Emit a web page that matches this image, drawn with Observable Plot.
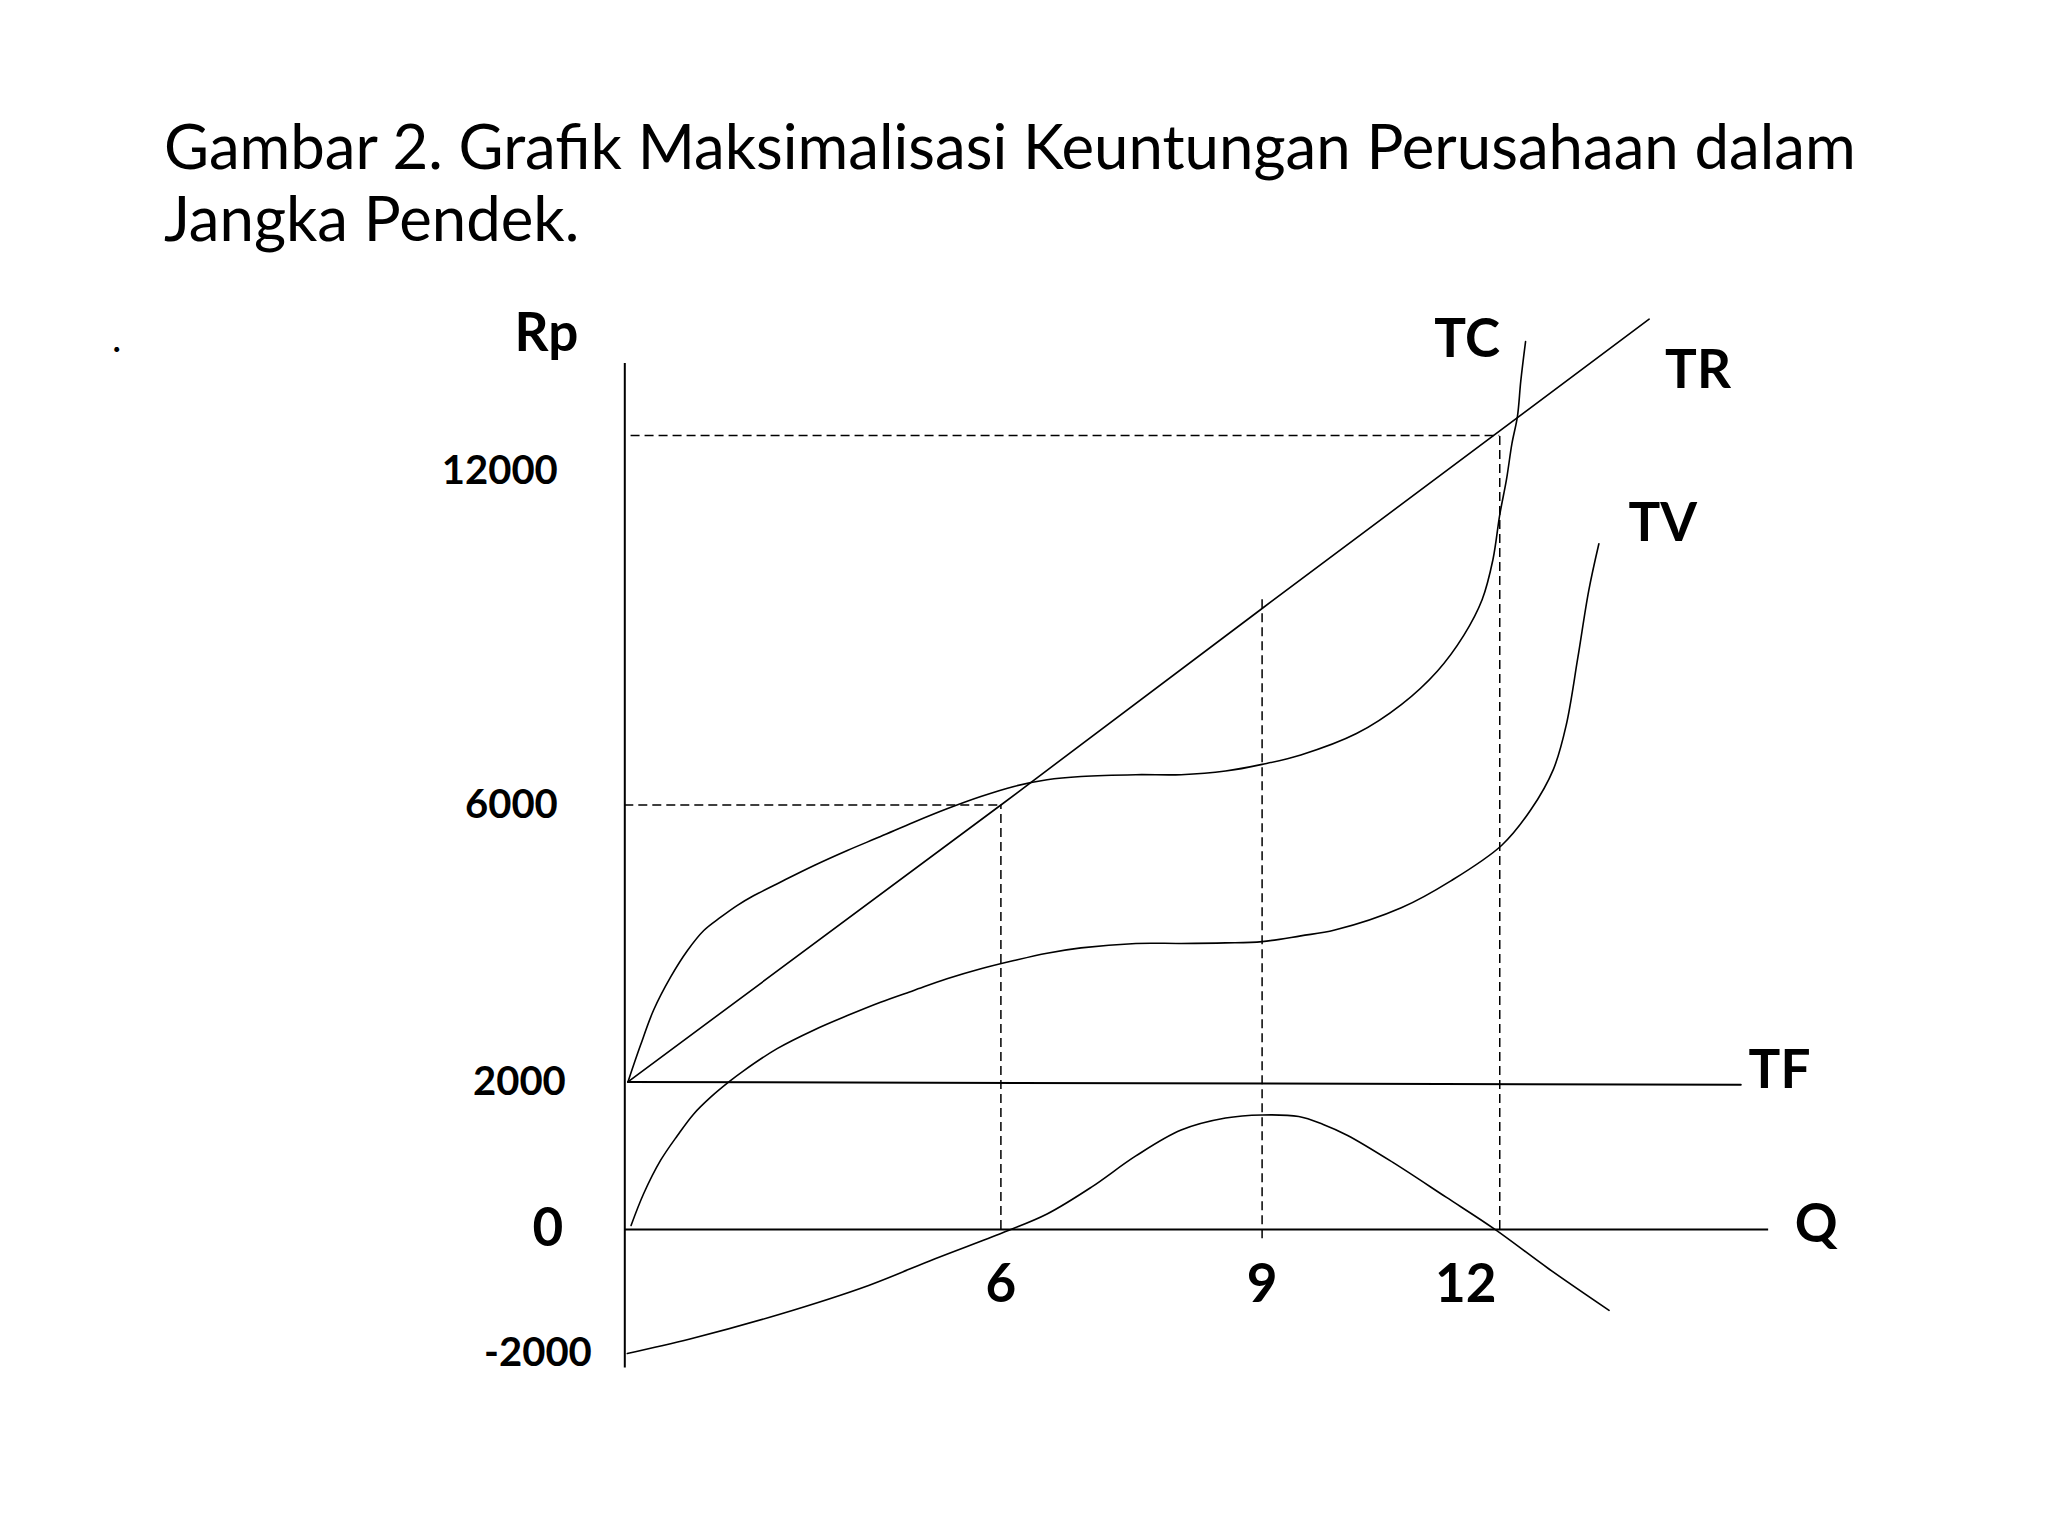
<!DOCTYPE html>
<html>
<head>
<meta charset="utf-8">
<script src="https://cdn.jsdelivr.net/npm/d3@7"></script>
<script src="https://cdn.jsdelivr.net/npm/@observablehq/plot@0.6"></script>
<style>
html, body { margin: 0; padding: 0; background: #fff; width: 2048px; height: 1536px; overflow: hidden; }
#title { position: absolute; left: 164px; top: 109px; font-family: Lato, "Open Sans", sans-serif; font-size: 61.7px; line-height: 72px; color: #000; white-space: nowrap; }
#dot { position: absolute; left: 112px; top: 317px; font-family: Lato, sans-serif; font-size: 40px; line-height: 40px; color: #000; }
#chart { position: absolute; left: 0; top: 270px; }
</style>
</head>
<body>
<div id="title">Gambar 2. Grafik Maksimalisasi Keuntungan Perusahaan dalam<br>Jangka Pendek.</div>
<div id="dot">.</div>
<div id="chart"></div>
<script>
// ---- scale break points (the drawing is a schematic, so both axes are piecewise) ----
const xBreaks = [0, 6, 9, 12];
const yBreaks = [-2000, 0, 2000, 6000, 12000];

// ---- tick labels ----
const xTicks = [6, 9, 12];
const yTicks = [-2000, 2000, 6000, 12000];
const zeroTick = [0];

// ---- curves (Q, Rp) ----
const tfQ = [0.05, 16.05];
const tfRp = [2000, 1961];

const trQ = [0.05, 6, 9, 14.7];
const trRp = [2000, 6000, 9527, 14719];

const tcQ = [0.05, 0.25, 0.46, 0.73, 1.0, 1.26, 1.53, 1.79, 2.06, 2.48, 3.02, 3.55, 4.08, 4.61, 5.14, 5.68, 6.15, 6.53, 6.92, 7.55, 8.07, 8.58, 9.0, 9.57, 10.39, 11.05, 11.58, 11.97, 12.24, 12.4, 12.5, 12.6, 12.68, 12.76, 12.81, 12.88];
const tcRp = [2000, 2528, 3038, 3513, 3898, 4187, 4379, 4547, 4692, 4885, 5126, 5343, 5545, 5751, 5945, 6152, 6333, 6452, 6511, 6544, 6544, 6609, 6729, 6898, 7282, 7802, 8402, 9045, 9684, 10406, 11208, 11848, 12490, 12970, 13613, 14316];

const tvQ = [0.1, 0.3, 0.57, 0.84, 1.1, 1.37, 1.66, 1.9, 2.43, 3.02, 3.55, 4.08, 4.61, 5.14, 5.68, 6.15, 6.53, 6.92, 7.55, 8.07, 8.58, 9.0, 9.57, 10.07, 11.05, 11.78, 12.53, 12.96, 13.29, 13.48, 13.65, 13.81, 13.96];
const tvRp = [53, 483, 935, 1273, 1566, 1793, 2000, 2164, 2481, 2751, 2958, 3151, 3321, 3489, 3634, 3753, 3859, 3936, 4000, 4000, 4008, 4027, 4110, 4193, 4515, 4904, 5419, 5934, 6640, 7441, 8644, 9844, 10688];

const profitQ = [0.04, 1.04, 2.46, 3.89, 4.95, 6.02, 6.53, 7.04, 7.55, 8.07, 8.58, 9.0, 9.54, 9.9, 10.26, 10.92, 11.71, 12.43, 13.22, 14.11];
const profitRp = [-2000, -1766, -1371, -903, -472, -53, 209, 573, 996, 1347, 1510, 1552, 1531, 1423, 1274, 912, 437, 0, -634, -1305];

// ---- guide lines ----
const axisRpSpan = [-2232, 13922];
const axisQEnd = 16.46;
const guide6 = {q: 6, rp: 6000};
const guide9 = {q: 9, rpLow: -150, rpHigh: 9700};
const guide12 = {q: 12.5, rp: 12633, qStart: 0.1};

// ---- curve / axis labels ----
const labelNames = ["Rp", "TC", "TR", "TV", "TF", "Q"];
const labelQ = [-1.25, 12.02, 15.42, 14.9, 16.62, 17.16];
const labelRp = [14461, 14349, 13788, 11049, 2164, 53];

const rows = (q, v) => q.map((d, i) => ({q: d, rp: v[i]}));
const labels = labelNames.map((n, i) => ({name: n, q: labelQ[i], rp: labelRp[i]}));

const dash = {stroke: "#000", strokeWidth: 1.5, strokeDasharray: "9,5"};
const curveStyle = {x: "q", y: "rp", stroke: "#000", strokeWidth: 1.6};
const font = "Lato, 'Open Sans', sans-serif";
const tickText = {x: 0, y: d => d, text: d => String(d), textAnchor: "end", fontSize: 40, fontWeight: "bold", fill: "#000"};

const chart = Plot.plot({
  width: 2048,
  height: 1266,
  marginTop: 0, marginRight: 0, marginBottom: 0, marginLeft: 0,
  style: {fontFamily: font, background: "transparent", color: "#000"},
  x: {type: "linear", domain: xBreaks, range: [624.3, 1000.4, 1261.6, 1465.3], axis: null},
  y: {type: "linear", domain: yBreaks, range: [1083.0, 958.9, 811.4, 534.5, 200.2], axis: null},
  marks: [
    // dashed guides
    Plot.ruleY([guide6.rp], {x1: 0, x2: guide6.q, ...dash}),
    Plot.ruleX([guide6.q], {y1: 0, y2: guide6.rp, ...dash}),
    Plot.ruleX([guide9.q], {y1: guide9.rpLow, y2: guide9.rpHigh, ...dash}),
    Plot.ruleY([guide12.rp], {x1: guide12.qStart, x2: guide12.q, ...dash}),
    Plot.ruleX([guide12.q], {y1: 0, y2: guide12.rp, ...dash}),
    // axes
    Plot.ruleX([0], {y1: axisRpSpan[0], y2: axisRpSpan[1], stroke: "#000", strokeWidth: 2}),
    Plot.ruleY([0], {x1: 0, x2: axisQEnd, stroke: "#000", strokeWidth: 2}),
    // curves
    Plot.line(rows(tfQ, tfRp), {...curveStyle, strokeWidth: 2}),
    Plot.line(rows(trQ, trRp), curveStyle),
    Plot.line(rows(tcQ, tcRp), {...curveStyle, curve: "catmull-rom"}),
    Plot.line(rows(tvQ, tvRp), {...curveStyle, curve: "catmull-rom"}),
    Plot.line(rows(profitQ, profitRp), {...curveStyle, curve: "catmull-rom"}),
    // y tick labels (placed as in the original sketch)
    Plot.text(yTicks.filter(d => d > 2000), {...tickText, dx: -67}),
    Plot.text(yTicks.filter(d => d === 2000), {...tickText, dx: -59}),
    Plot.text(yTicks.filter(d => d < 0), {...tickText, dx: -33}),
    Plot.text(zeroTick, {x: 0, y: d => d, text: d => String(d), dx: -77, textAnchor: "middle", fontSize: 53, fontWeight: "bold", fill: "#000"}),
    // x tick labels
    Plot.text(xTicks, {x: d => d, y: 0, text: d => String(d), dy: 56, fontSize: 53, fontWeight: "bold", fill: "#000"}),
    // curve labels
    Plot.text(labels, {x: "q", y: "rp", text: "name", fontSize: 53, fontWeight: "bold", fill: "#000"})
  ]
});
document.getElementById("chart").appendChild(chart);
</script>
</body>
</html>
